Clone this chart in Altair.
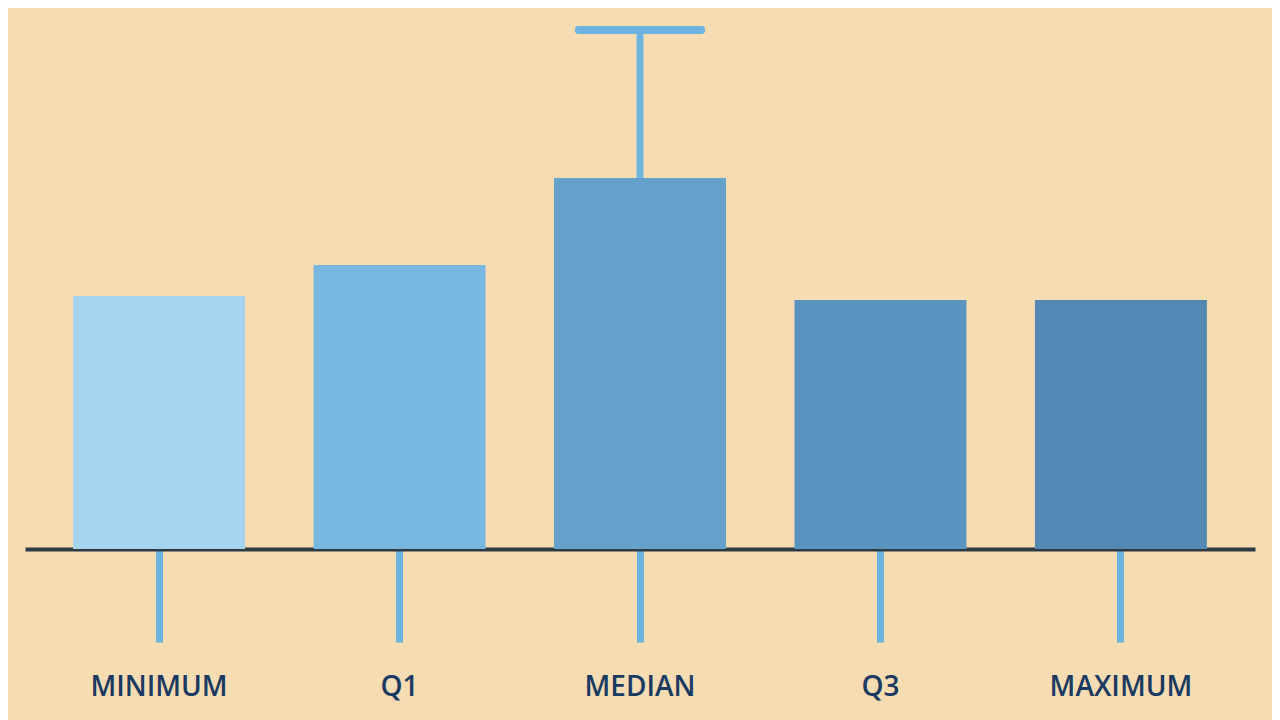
import altair as alt
import pandas as pd

categories = ["MINIMUM", "Q1", "MEDIAN", "Q3", "MAXIMUM"]
values = [253, 284, 371, 249, 249]
colors = ["#a6d4ef", "#78b8e0", "#64a2ca", "#5994c0", "#5388b3"]
whisker_cat = ["MEDIAN"]
whisker_low = [371]
whisker_high = [519]

df = pd.DataFrame({"cat": categories, "val": values, "color": colors})
wdf = pd.DataFrame({"cat": whisker_cat, "low": whisker_low, "high": whisker_high})

xenc = alt.X(
    "cat:N",
    sort=categories,
    title=None,
    scale=alt.Scale(paddingInner=0.285, paddingOuter=0.2),
    axis=alt.Axis(
        domainColor="#2e3a44",
        domainWidth=4,
        tickColor="#6cb3e0",
        tickWidth=7,
        tickSize=93,
        labelAngle=0,
        labelFont="Open Sans",
        labelFontWeight=600,
        labelFontSize=28,
        labelColor="#1b3a62",
        labelPadding=31,
        labelBaseline="top",
    ),
)
yscale = alt.Scale(domain=[0, 541], nice=False, zero=True)

bars = alt.Chart(df).mark_bar().encode(
    x=xenc,
    y=alt.Y("val:Q", scale=yscale, axis=None),
    color=alt.Color("color:N", scale=None),
)

stem = alt.Chart(wdf).mark_rule(color="#6cb3e0", strokeWidth=7).encode(
    x=alt.X("cat:N", sort=categories),
    y=alt.Y("low:Q", scale=yscale),
    y2="high:Q",
)
cap = alt.Chart(wdf).mark_tick(color="#6cb3e0", opacity=1, thickness=8, size=130, cornerRadius=3).encode(
    x=alt.X("cat:N", sort=categories),
    y=alt.Y("high:Q", scale=yscale),
)

chart = (
    alt.layer(bars, stem, cap)
    .properties(
        width=1230,
        height=541,
        background="#f5dcb2",
        padding={"left": 17, "top": 0, "right": 17, "bottom": 20},
    )
    .configure_view(stroke=None)
)

chart.save("out.html", embed_options={"renderer": "svg", "actions": False})
